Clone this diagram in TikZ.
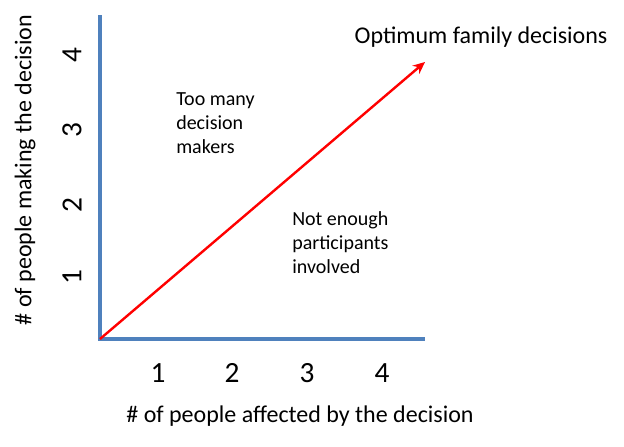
\documentclass[tikz,border=0pt]{standalone}
\usepackage{fontspec}
\setmainfont{Carlito}
\usepackage{xcolor}
\usetikzlibrary{arrows.meta, positioning}

\definecolor{axisblue}{RGB}{79,129,189}

\begin{document}
\begin{tikzpicture}[x=0.75pt, y=-0.75pt]
\tikzstyle{axis} = [draw=axisblue, line width=3pt]
\tikzstyle{arrow} = [draw=red, line width=1.8pt, -{Stealth[length=9pt, width=8pt]}]
\tikzstyle{tick} = [font=\fontsize{22}{26}\selectfont, inner sep=0pt]
\tikzstyle{note} = [font=\fontsize{15}{18}\selectfont, align=left, inner sep=0pt, anchor=north west]
\tikzstyle{label} = [font=\fontsize{18}{21}\selectfont, inner sep=0pt]

\useasboundingbox (0,0) rectangle (624,446);

\coordinate (origin) at (100,339);
\coordinate (ytop) at (100,15);
\coordinate (xend) at (425,339);
\coordinate (tip) at (425,62);

\draw [axis] (ytop) -- (origin.center) -- (xend);
\draw [arrow] (origin) -- (tip);

\node (optimum) [font=\fontsize{18}{21}\selectfont, inner sep=0pt] at (481,37) {Optimum family decisions};
\node (toomany) [note] at (176,92) {Too many\\decision\\makers};
\node (notenough) [note] at (292,211) {Not enough\\participants\\involved};

\node (x1) [tick] at (158,373) {1};
\node (x2) [tick] at (232,373) {2};
\node (x3) [tick] at (307,373) {3};
\node (x4) [tick] at (382,373) {4};

\node (y1) [tick, rotate=90] at (72,277) {1};
\node (y2) [tick, rotate=90] at (72,205) {2};
\node (y3) [tick, rotate=90] at (72,130) {3};
\node (y4) [tick, rotate=90] at (72,55) {4};

\node (xlabel) [label] at (300,416) {\# of people affected by the decision};
\node (ylabel) [label, rotate=90] at (25,170) {\# of people making the decision};
\end{tikzpicture}
\end{document}
